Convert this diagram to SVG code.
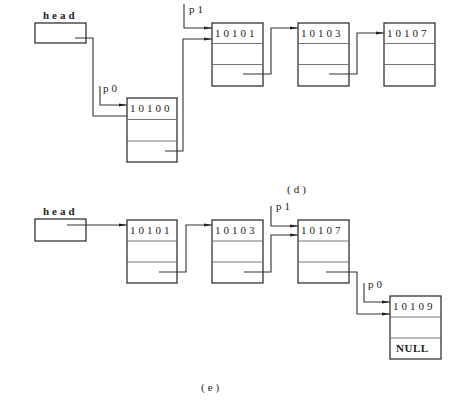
<svg xmlns="http://www.w3.org/2000/svg" width="474" height="403" viewBox="0 0 474 403">
<style>
.box{fill:#fff;stroke:#333;stroke-width:1.3}
.div{stroke:#666;stroke-width:0.9}
.ln{fill:none;stroke:#333;stroke-width:1.1}
.t{font-family:"Liberation Serif",serif;font-size:11px;letter-spacing:3px;fill:#222}
.h{font-family:"Liberation Serif",serif;font-size:11px;letter-spacing:3px;fill:#222;font-weight:bold}
.c{font-family:"Liberation Serif",serif;font-size:11px;letter-spacing:3px;fill:#222}
</style>
<defs>
<marker id="ar" viewBox="0 0 8 4" refX="8" refY="2" markerWidth="8" markerHeight="4" markerUnits="userSpaceOnUse" orient="auto">
<path d="M0,0.5 L8,2 L0,3.5 Z" fill="#222"/>
</marker>
</defs>

<rect width="474" height="403" fill="#fff"/>

<!-- (d) -->
<g id="d-head"><text class="h" x="43" y="19">head</text><rect class="box" x="35" y="23" width="51" height="20"/></g>
<g id="d-n10100"><rect class="box" x="127" y="98" width="50" height="64"/><line class="div" x1="127" y1="119.5" x2="177" y2="119.5"/><line class="div" x1="127" y1="141" x2="177" y2="141"/><text class="t" x="130" y="112">10100</text></g>
<g id="d-n10101"><rect class="box" x="212" y="23" width="51" height="63"/><line class="div" x1="212" y1="43.5" x2="263" y2="43.5"/><line class="div" x1="212" y1="64.5" x2="263" y2="64.5"/><text class="t" x="215" y="37">10101</text></g>
<g id="d-n10103"><rect class="box" x="298" y="23" width="51" height="63"/><line class="div" x1="298" y1="43.5" x2="349" y2="43.5"/><line class="div" x1="298" y1="64.5" x2="349" y2="64.5"/><text class="t" x="301" y="37">10103</text></g>
<g id="d-n10107"><rect class="box" x="384" y="23" width="51" height="63"/><line class="div" x1="384" y1="43.5" x2="435" y2="43.5"/><line class="div" x1="384" y1="64.5" x2="435" y2="64.5"/><text class="t" x="387" y="37">10107</text></g>
<g id="d-p0"><text class="c" x="103" y="92">p0</text></g>
<g id="d-p1"><text class="c" x="189" y="13">p1</text></g>
<text class="c" x="287" y="193">(d)</text>

<g id="d-connectors">
<path class="ln" d="M75,38 H93 V116 H127"/>
<path class="ln" d="M100,86 V105 H127" marker-end="url(#ar)"/>
<path class="ln" d="M165,151 H183 V39 H212" marker-end="url(#ar)"/>
<path class="ln" d="M184,4 V28 H212" marker-end="url(#ar)"/>
<path class="ln" d="M243,74 H271 V28 H298" marker-end="url(#ar)"/>
<path class="ln" d="M329,74 H357 V33 H384" marker-end="url(#ar)"/>
</g>

<!-- (e) -->
<g id="e-head"><text class="h" x="43" y="215">head</text><rect class="box" x="35" y="219" width="51" height="22"/></g>
<g id="e-n10101"><rect class="box" x="127" y="220" width="50" height="63"/><line class="div" x1="127" y1="241" x2="177" y2="241"/><line class="div" x1="127" y1="262" x2="177" y2="262"/><text class="t" x="130" y="234">10101</text></g>
<g id="e-n10103"><rect class="box" x="212" y="220" width="51" height="63"/><line class="div" x1="212" y1="241" x2="263" y2="241"/><line class="div" x1="212" y1="262" x2="263" y2="262"/><text class="t" x="215" y="234">10103</text></g>
<g id="e-n10107"><rect class="box" x="298" y="220" width="51" height="63"/><line class="div" x1="298" y1="241" x2="349" y2="241"/><line class="div" x1="298" y1="262" x2="349" y2="262"/><text class="t" x="301" y="234">10107</text></g>
<g id="e-n10109"><rect class="box" x="390" y="296" width="51" height="63"/><line class="div" x1="390" y1="317" x2="441" y2="317"/><line class="div" x1="390" y1="338" x2="441" y2="338"/><text class="t" x="393" y="310">10109</text><text class="c" x="396" y="352" style="font-weight:bold;letter-spacing:0.5px">NULL</text></g>
<g id="e-p1"><text class="c" x="276" y="210">p1</text></g>
<g id="e-p0"><text class="c" x="368" y="288">p0</text></g>
<text class="c" x="201" y="391">(e)</text>

<g id="e-connectors">
<path class="ln" d="M67,225 H127" marker-end="url(#ar)"/>
<path class="ln" d="M159,272 H186 V225 H212" marker-end="url(#ar)"/>
<path class="ln" d="M244,272 H271 V235 H298" marker-end="url(#ar)"/>
<path class="ln" d="M271,206 V226 H298" marker-end="url(#ar)"/>
<path class="ln" d="M326,272 H357 V314 H390" marker-end="url(#ar)"/>
<path class="ln" d="M364,283 V302 H390" marker-end="url(#ar)"/>
</g>
</svg>
